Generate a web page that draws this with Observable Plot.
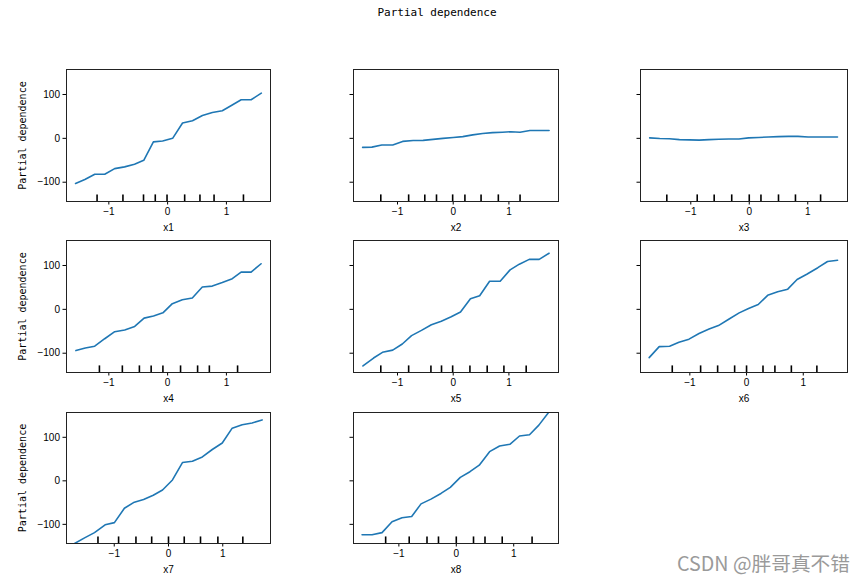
<!DOCTYPE html>
<html>
<head>
<meta charset="utf-8">
<script src="https://cdn.jsdelivr.net/npm/d3@7"></script>
<script src="https://cdn.jsdelivr.net/npm/@observablehq/plot@0.6"></script>
<style>
  html, body { margin: 0; padding: 0; background: #fff; }
  #fig { position: relative; width: 865px; height: 585px; overflow: hidden; background: #fff; }
  #fig svg { position: absolute; background: transparent; overflow: visible; }
  #title { position: absolute; top: 5px; left: 337px; width: 200px; text-align: center;
           font-family: "DejaVu Sans Mono", monospace; font-size: 11px; color: #000; line-height: 16px; }
  #wm { position: absolute; right: 15px; top: 550px; font-family: "Noto Sans CJK SC", sans-serif;
        font-size: 19.7px; color: #9a9a9a; line-height: 26px; }
</style>
</head>
<body>
<div id="fig">
  <div id="title">Partial dependence</div>
  <div id="wm">CSDN @胖哥真不错</div>
</div>
<script>
// ---- data ----
const featureNames = ["x1", "x2", "x3", "x4", "x5", "x6", "x7", "x8"];
const yDomain = [-144, 157];
const yTicks = [-100, 0, 100];
const xTicks = [-1, 0, 1];

const grid1 = [-1.566,-1.408,-1.239,-1.070,-0.901,-0.732,-0.563,-0.406,-0.242,-0.085,0.085,0.254,0.423,0.592,0.761,0.930,1.099,1.251,1.420,1.594];
const pd1   = [-103,-94,-82,-82,-69,-65,-59,-50,-8,-6,0,35,40,52,59,63,76,88,88,103];
const dec1  = [-1.20,-0.76,-0.41,-0.21,-0.01,0.29,0.55,0.79,1.29];

const grid2 = [-1.626,-1.460,-1.282,-1.086,-0.908,-0.718,-0.540,-0.362,-0.184,0,0.172,0.350,0.528,0.706,0.884,1.033,1.199,1.377,1.555,1.721];
const pd2   = [-20.6,-20,-15,-15,-7,-5,-4.6,-2.3,0,2,4,8,11,13,14,15,14,18,18,18];
const dec2  = [-1.30,-0.80,-0.51,-0.30,-0.01,0.21,0.50,0.81,1.20];

const grid3 = [-1.703,-1.531,-1.366,-1.194,-1.023,-0.857,-0.686,-0.520,-0.349,-0.177,-0.011,0.160,0.326,0.497,0.669,0.834,1.006,1.177,1.343,1.509];
const pd3   = [1,-0.5,-1,-3,-3.5,-4,-3,-2,-1.5,-1.5,1,2,3,4,4.5,4.5,3,3,3,3];
const dec3  = [-1.41,-0.89,-0.60,-0.30,0,0.20,0.50,0.79,1.22];

const grid4 = [-1.56,-1.40,-1.24,-1.07,-0.90,-0.73,-0.56,-0.40,-0.24,-0.08,0.08,0.25,0.42,0.59,0.76,0.93,1.10,1.25,1.42,1.59];
const pd4   = [-94,-88,-84,-67,-51,-47,-39,-20,-15,-8,13,22,26,51,53,61,70,85,85,104];
const dec4  = [-1.16,-0.77,-0.48,-0.28,-0.08,0.22,0.51,0.71,1.19];

const grid5 = [-1.620,-1.430,-1.270,-1.086,-0.914,-0.748,-0.570,-0.392,-0.214,-0.036,0.131,0.309,0.475,0.653,0.843,1.021,1.187,1.365,1.543,1.721];
const pd5   = [-129,-111,-98,-93,-79,-60,-48,-35,-27,-17,-6,24,31,64,64,90,103,114,114,128];
const dec5  = [-1.30,-0.80,-0.40,-0.21,-0.01,0.30,0.61,0.91,1.31];

const grid6 = [-1.717,-1.540,-1.357,-1.192,-1.015,-0.838,-0.661,-0.496,-0.307,-0.130,0.035,0.206,0.372,0.549,0.726,0.891,1.062,1.257,1.428,1.605];
const pd6   = [-110,-85,-84,-75,-68,-55,-45,-37,-22,-8,2,11,32,40,46,68,80,95,109,112];
const dec6  = [-1.31,-0.81,-0.51,-0.21,0,0.29,0.50,0.79,1.24];

const grid7 = [-1.731,-1.547,-1.364,-1.168,-0.997,-0.813,-0.630,-0.459,-0.281,-0.110,0.073,0.257,0.440,0.624,0.807,0.991,1.174,1.358,1.541,1.725];
const pd7   = [-144,-131,-119,-101,-96,-63,-49,-43,-33,-21,2,42,45,55,72,87,121,129,133,140];
const dec7  = [-1.30,-0.92,-0.60,-0.31,0,0.29,0.59,0.91,1.37];

const grid8 = [-1.641,-1.467,-1.293,-1.119,-0.945,-0.777,-0.614,-0.441,-0.267,-0.104,0.070,0.238,0.400,0.580,0.754,0.933,1.101,1.275,1.438,1.600];
const pd8   = [-124,-124,-119,-94,-85,-82,-53,-42,-29,-15,8,21,36,67,80,84,103,106,128,156];
const dec8  = [-1.23,-0.82,-0.51,-0.31,0,0.30,0.50,0.80,1.32];

const xDomains = [[-1.72,1.75],[-1.79,1.89],[-1.86,1.68],[-1.72,1.75],[-1.79,1.89],[-1.87,1.78],[-1.88,1.88],[-1.79,1.78]];

const grids = [grid1, grid2, grid3, grid4, grid5, grid6, grid7, grid8];
const pds = [pd1, pd2, pd3, pd4, pd5, pd6, pd7, pd8];
const decs = [dec1, dec2, dec3, dec4, dec5, dec6, dec7, dec8];

// ---- layout ----
const colLeft = [66, 353, 640];
const colWidth = [204, 205, 207];
const rowTop = [69, 240, 412];
const rowHeight = [132, 132, 131];
const mL = 55, mR = 5, mT = 5, mB = 40;

const fig = document.getElementById("fig");
const span = yDomain[1] - yDomain[0];
const intFmt = d => d3.format("d")(d).replace("-", "\u2212");

featureNames.forEach((name, i) => {
  const r = Math.floor(i / 3), c = i % 3;
  const data = grids[i].map((x, k) => ({x, y: pds[i][k]}));
  const marks = [
    Plot.axisX({ticks: xTicks, tickSize: 3.5, tickPadding: 3, label: null, fontSize: 10, tickFormat: intFmt}),
    Plot.axisY({ticks: yTicks, tickSize: 3.5, tickPadding: 3, label: null, fontSize: 10,
                tickFormat: c === 0 ? intFmt : (() => "")}),
    Plot.line(data, {x: "x", y: "y", stroke: "#1f77b4", strokeWidth: 1.6, clip: true}),
    Plot.ruleX(decs[i], {x: d => d, y1: yDomain[0], y2: yDomain[0] + 0.05 * span, stroke: "#000", strokeWidth: 1.6}),
    Plot.frame({stroke: "#222", strokeWidth: 1}),
    Plot.text([name], {frameAnchor: "bottom", dy: 29, text: d => d, fontSize: 10,
                       fontFamily: "Liberation Sans, sans-serif", fill: "#000"})
  ];
  if (c === 0) {
    marks.push(Plot.text(["Partial dependence"], {frameAnchor: "left", dx: -44, rotate: -90, text: d => d,
      textAnchor: "middle", fontSize: 10, fontFamily: "DejaVu Sans Mono, monospace", fill: "#000"}));
  }
  const chart = Plot.plot({
    width: mL + colWidth[c] + mR,
    height: mT + rowHeight[r] + mB,
    marginLeft: mL, marginRight: mR, marginTop: mT, marginBottom: mB,
    style: {background: "transparent", fontFamily: "Liberation Sans, sans-serif", fontSize: "10px", color: "#000", overflow: "visible"},
    x: {domain: xDomains[i]},
    y: {domain: yDomain},
    marks
  });
  chart.style.left = (colLeft[c] - mL) + "px";
  chart.style.top = (rowTop[r] - mT) + "px";
  fig.appendChild(chart);
});
</script>
</body>
</html>
